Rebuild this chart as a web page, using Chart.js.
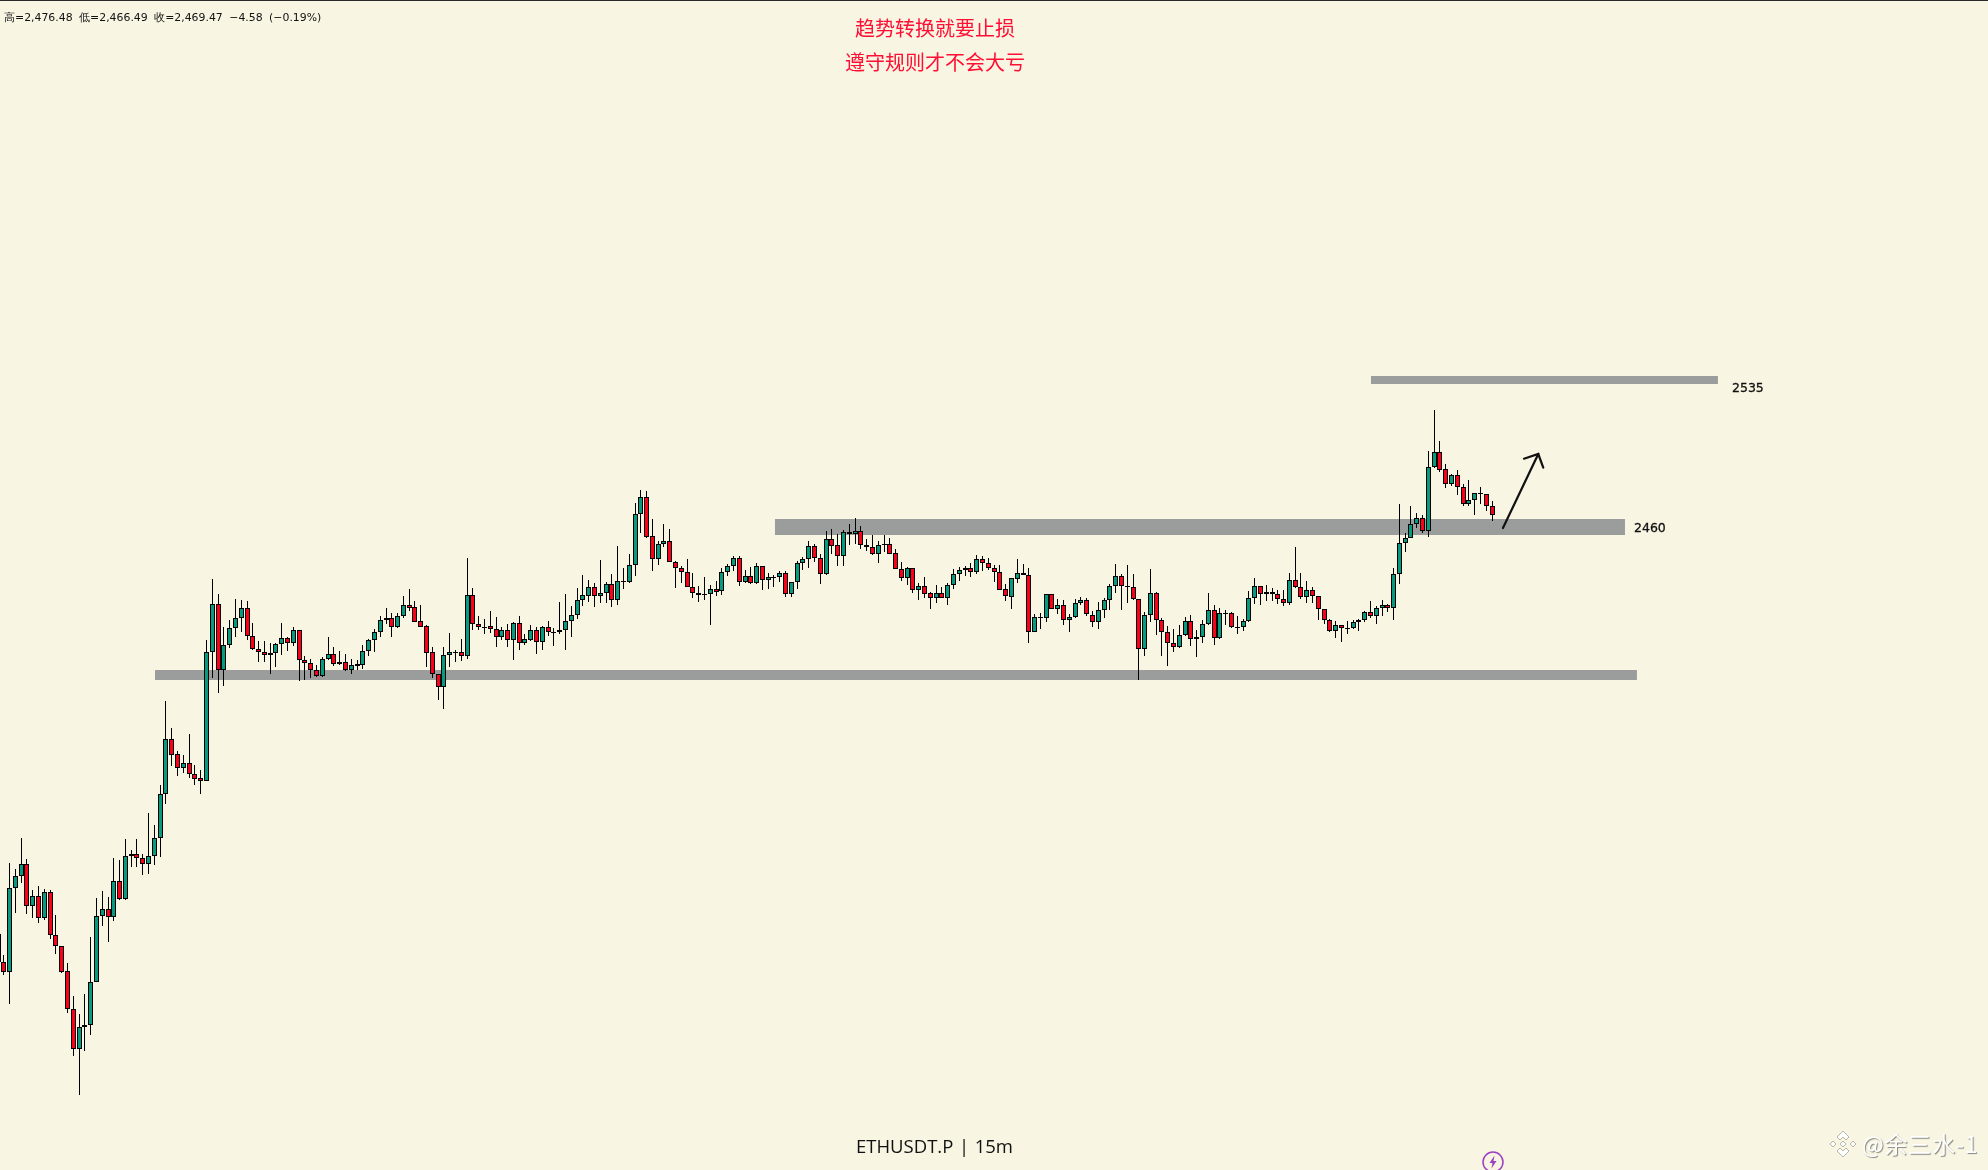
<!DOCTYPE html>
<html lang="zh">
<head>
<meta charset="UTF-8">
<title>ETHUSDT.P 15m</title>
<script src="https://cdn.jsdelivr.net/npm/chart.js"></script>
<style>
html, body { margin: 0; padding: 0; background: #f8f5e3; }
body { width: 1988px; height: 1170px; overflow: hidden; position: relative; }
canvas { position: absolute; left: 0; top: 0; }
.txt { position: absolute; white-space: nowrap; line-height: 1; }
#topline { position: absolute; left: 0; top: 0; width: 1988px; height: 1px; background: #2a2a2a; }
#header { left: 4px; top: 11px; font: 10.9px "DejaVu Sans", sans-serif; color: #111; word-spacing: 3px; }
.note { left: 735px; width: 400px; text-align: center; font: 20px "Noto Sans CJK SC", sans-serif; color: #ff0f33; }
.level { font: 12.5px "DejaVu Sans", sans-serif; color: #111; -webkit-text-stroke: 0.3px #111; }
#symbol { left: 856px; top: 1133px; font: 18.5px "Open Sans", sans-serif; color: #111; word-spacing: 0.8px; }
#mark { left: 1862px; top: 1126px; font: 23px "Noto Sans CJK SC", sans-serif; color: #fff; letter-spacing: 0.8px; text-shadow: 1px 1px 1px #85857b; }
svg { position: absolute; }
</style>
</head>
<body>
<canvas id="candles" width="1988" height="1170"></canvas>
<div id="topline"></div>
<div class="txt" id="header">高=2,476.48 低=2,466.49 收=2,469.47 −4.58 (−0.19%)</div>
<div class="txt note" style="top:13px">趋势转换就要止损</div>
<div class="txt note" style="top:47px">遵守规则才不会大亏</div>
<div class="txt level" style="left:1732px;top:380px">2535</div>
<div class="txt level" style="left:1634px;top:520px">2460</div>
<div class="txt" id="symbol">ETHUSDT.P | 15m</div>
<svg style="left:1481px;top:1150px" width="24" height="24" viewBox="0 0 24 24">
  <circle cx="12" cy="12" r="10" fill="none" stroke="#9c3fc0" stroke-width="1.5"/>
  <path d="M13.5 5.5 L8.5 13 H11.5 L10.5 18.5 L15.5 11 H12.5 Z" fill="#9c3fc0"/>
</svg>
<svg style="left:1829px;top:1130px" width="28" height="28" viewBox="0 0 28 28">
  <g fill="#fff" stroke="#b9b7a8" stroke-width="1">
    <path d="M14 1 L20 7 L17 10 L14 7 L11 10 L8 7 Z"/>
    <path d="M14 27 L20 21 L17 18 L14 21 L11 18 L8 21 Z"/>
    <path d="M4 11 L7 14 L4 17 L1 14 Z"/>
    <path d="M24 11 L27 14 L24 17 L21 14 Z"/>
    <path d="M14 11 L17 14 L14 17 L11 14 Z"/>
  </g>
</svg>
<div class="txt" id="mark">@余三水-1</div>
<script>
// 15m candles, oldest first
var opens = [2260.2,
  2245.9, 2241.2, 2282.9, 2288.9, 2294.8, 2273.8, 2278.8, 2267.9, 2280.8, 2259.3,
  2253.8, 2241.4, 2222.3, 2202.3, 2213.3, 2214.4, 2235.9, 2268.8, 2272.4, 2268.3,
  2286.3, 2277.7, 2298.9, 2299.8, 2297.9, 2294.8, 2298.9, 2307.9, 2330.2, 2357.3,
  2349.9, 2342.8, 2345.7, 2339.9, 2337.8, 2336.3, 2400.9, 2424.8, 2391.9, 2404.3,
  2413.2, 2417.9, 2422.9, 2408.8, 2402.7, 2400.9, 2399.3, 2400.3, 2404.8, 2407.9,
  2405.7, 2411.8, 2396.8, 2395.7, 2392.2, 2388.8, 2397.3, 2399.8, 2395.8, 2395.8,
  2391.8, 2394.2, 2394.7, 2401.3, 2406.8, 2410.8, 2416.8, 2417.8, 2413.7, 2418.8,
  2424.3, 2423.3, 2416.3, 2413.8, 2400.8, 2389.8, 2383.3, 2399.3, 2400.6, 2400.8,
  2399.2, 2429.3, 2414.8, 2413.6, 2413.8, 2412.3, 2408.7, 2411.8, 2407.2, 2415.3,
  2405.3, 2407.2, 2411.8, 2405.8, 2413.3, 2411.2, 2410.8, 2411.8, 2416.3, 2419.3,
  2426.8, 2429.2, 2433.3, 2429.2, 2430.3, 2434.8, 2426.8, 2436.3, 2435.8, 2444.3,
  2469.8, 2478.3, 2458.8, 2447.3, 2454.8, 2456.3, 2445.8, 2442.8, 2440.8, 2433.3,
  2430.3, 2429.3, 2429.8, 2432.3, 2431.3, 2440.8, 2443.8, 2447.8, 2435.8, 2438.8,
  2435.3, 2443.8, 2436.8, 2438.3, 2438.3, 2440.3, 2430.2, 2435.8, 2445.3, 2447.3,
  2453.8, 2447.8, 2440.2, 2457.3, 2454.3, 2448.8, 2460.8, 2459.8, 2461.3, 2454.3,
  2453.3, 2450.2, 2454.3, 2454.9, 2450.3, 2442.7, 2438.2, 2442.8, 2431.8, 2433.8,
  2430.3, 2427.8, 2430.3, 2427.8, 2434.3, 2439.8, 2441.8, 2442.8, 2440.8, 2447.3,
  2445.3, 2442.8, 2440.8, 2432.3, 2428.7, 2437.7, 2440.3, 2439.3, 2410.8, 2417.8,
  2417.8, 2429.8, 2422.3, 2424.3, 2416.8, 2418.3, 2425.3, 2426.8, 2419.7, 2415.8,
  2421.8, 2426.8, 2433.8, 2438.8, 2433.8, 2433.3, 2427.3, 2402.3, 2419.3, 2430.3,
  2416.8, 2410.8, 2405.3, 2403.3, 2409.3, 2416.3, 2407.3, 2408.3, 2414.8, 2421.8,
  2407.8, 2420.3, 2420.3, 2413.3, 2413.3, 2416.3, 2427.8, 2433.8, 2429.8, 2430.8,
  2429.8, 2427.3, 2425.3, 2436.8, 2433.3, 2428.3, 2431.8, 2428.8, 2422.3, 2416.8,
  2411.3, 2414.3, 2412.8, 2412.8, 2415.8, 2416.8, 2420.8, 2418.8, 2422.8, 2424.3,
  2422.8, 2439.8, 2455.3, 2457.8, 2464.8, 2467.8, 2461.7, 2493.3, 2500.8, 2492.3, 2485.2,
  2489.3, 2483.3, 2475.2, 2476.8, 2480.3, 2479.8, 2474.05];
var highs = [2260.2,
  2249.5, 2295.5, 2292.5, 2308, 2297.5, 2282, 2283.9, 2282.5, 2282, 2269.5,
  2253.8, 2245.5, 2229, 2220, 2230, 2258.4, 2278.1, 2281.5, 2278.4, 2298,
  2297, 2307.5, 2302, 2307.5, 2299.9, 2320.4, 2314.6, 2334.6, 2376.6, 2363,
  2351.3, 2349.5, 2360, 2344.5, 2342, 2407, 2437.5, 2430, 2413.4, 2416.9,
  2427.5, 2427, 2426.3, 2415.5, 2406.5, 2406.5, 2405.5, 2405.7, 2415.5, 2408.4,
  2413.4, 2411.8, 2398.8, 2397.3, 2394.5, 2398.5, 2408.5, 2403.5, 2401.5, 2400,
  2397.5, 2396.8, 2404.3, 2407.5, 2412.5, 2419, 2422.8, 2420.5, 2420.5, 2429,
  2432.5, 2426.5, 2424.5, 2414.5, 2403.5, 2389.8, 2403.5, 2410.5, 2401.8, 2407.5,
  2448, 2433, 2419, 2417.5, 2421.5, 2418.5, 2413.3, 2415, 2415.8, 2419,
  2409.8, 2414.5, 2413.3, 2414, 2416.5, 2412.8, 2426, 2430, 2424, 2433,
  2439.5, 2437, 2435.5, 2447, 2435.8, 2440, 2454, 2443, 2450, 2475.5,
  2482, 2481.5, 2467.5, 2456.5, 2465, 2462.5, 2446.5, 2443.8, 2447.5, 2440.5,
  2433.8, 2438.5, 2434.3, 2436.5, 2443, 2445, 2449, 2449, 2442, 2443.5,
  2445.3, 2444, 2440.5, 2439.5, 2441.5, 2441.5, 2436, 2446.5, 2448.5, 2456.5,
  2455, 2450, 2461.5, 2462.5, 2460, 2462, 2465, 2468, 2464, 2457.5,
  2459.5, 2456.5, 2459.5, 2458, 2452.5, 2446, 2443.5, 2442.8, 2435.3, 2438.5,
  2431, 2434.5, 2433.5, 2435.5, 2442.3, 2443.5, 2444, 2445.5, 2449.5, 2449,
  2448, 2444.3, 2444.5, 2435, 2437.8, 2447.5, 2445, 2443, 2420, 2420.5,
  2430, 2429.8, 2427.5, 2427, 2420, 2427.5, 2428.5, 2427.8, 2421.5, 2426,
  2428, 2435, 2445, 2440, 2444.5, 2440, 2427.3, 2421, 2442.5, 2431,
  2418, 2413.8, 2412.5, 2414.5, 2418.5, 2419.5, 2412, 2417, 2430.5, 2424.5,
  2423, 2422, 2421, 2419, 2417.5, 2431.5, 2438, 2434, 2434.5, 2433,
  2432, 2432, 2440.5, 2453.5, 2440.5, 2436.5, 2433.5, 2429, 2422.5, 2417.5,
  2416.5, 2414.5, 2416.5, 2416.8, 2417.3, 2421.5, 2426.5, 2424, 2427, 2424.8,
  2443, 2475, 2460.5, 2474, 2470.3, 2469.3, 2501.5, 2522, 2506.5, 2495,
  2489.8, 2492, 2485, 2487, 2480.3, 2483.5, 2480, 2476.48];
var lows = [2245.5,
  2239.7, 2225.2, 2270.7, 2285.6, 2270.2, 2267.9, 2265.7, 2267, 2257.6, 2250.2,
  2240.4, 2220.7, 2199, 2179.7, 2201.6, 2209.7, 2235.9, 2264.1, 2256.2, 2266.7,
  2277.2, 2277.2, 2293.6, 2293.6, 2289.4, 2290, 2294.6, 2298.6, 2325.1, 2344,
  2339, 2340.6, 2338.2, 2334.6, 2330.1, 2336.3, 2387.9, 2380.5, 2384, 2402.9,
  2408.3, 2411.2, 2407.2, 2402.2, 2396, 2396, 2390, 2393.4, 2399.5, 2401.5,
  2404, 2386.7, 2387, 2388, 2388.3, 2388.5, 2397, 2394, 2394.7, 2391.7,
  2390, 2392, 2392.5, 2399, 2401.2, 2408.5, 2415.2, 2408.5, 2413.2, 2418.2,
  2421.5, 2416.2, 2413.5, 2393.5, 2388, 2377, 2372.5, 2393.5, 2396, 2396.5,
  2397.5, 2412.2, 2412.2, 2410.2, 2410.7, 2403.5, 2407.2, 2403.5, 2397, 2402,
  2404.7, 2406.3, 2400, 2402, 2409, 2404, 2410.2, 2402, 2408.5, 2417.5,
  2424, 2426, 2423.5, 2425.7, 2425.5, 2423.5, 2424.5, 2432.5, 2435.7, 2439,
  2460.5, 2458, 2441.5, 2444.5, 2453.7, 2445.8, 2433, 2435.5, 2433.3, 2428,
  2426, 2427, 2414.5, 2429, 2429.5, 2439, 2441.5, 2434, 2435.7, 2435.2,
  2435.2, 2432, 2432.7, 2433.5, 2436, 2428.5, 2428.5, 2432.5, 2442, 2443,
  2446.2, 2435, 2439.5, 2450, 2444, 2444, 2454.5, 2455, 2452.3, 2451.7,
  2449.5, 2445.5, 2451, 2450, 2442.5, 2436.5, 2434.5, 2430.7, 2427, 2428,
  2422.5, 2425.5, 2427.8, 2424.5, 2432.5, 2436.5, 2439, 2438.5, 2440, 2441.5,
  2442, 2436, 2432, 2426.5, 2422.5, 2435.5, 2439.3, 2405.5, 2410.8, 2412.5,
  2416, 2422.3, 2420, 2414.5, 2411, 2417.8, 2424.5, 2419, 2413.5, 2412.5,
  2418, 2422, 2430.5, 2422, 2425.5, 2427, 2387, 2399, 2416, 2409.5,
  2399, 2394, 2401, 2403.2, 2409, 2404, 2398.5, 2405.5, 2414.5, 2404.5,
  2407.5, 2414.5, 2413, 2410, 2411.5, 2416.2, 2425, 2424.5, 2426.5, 2426.5,
  2425, 2424, 2424.5, 2432.8, 2427.5, 2425.5, 2425.5, 2417, 2415, 2411,
  2408, 2406, 2410, 2412.3, 2411.5, 2416.2, 2418, 2415, 2419, 2421,
  2417, 2434.8, 2451, 2457.8, 2462.8, 2460.5, 2458.5, 2493.2, 2491.2, 2483,
  2484, 2479.5, 2474, 2474, 2469.5, 2475, 2471.5, 2466.49];
var closes = [2245.9,
  2241.2, 2282.9, 2288.9, 2294.8, 2273.8, 2278.8, 2267.9, 2280.8, 2259.3, 2253.8,
  2241.2, 2222.3, 2202.3, 2213.3, 2214.4, 2235.9, 2268.8, 2272.4, 2268.3, 2286.3,
  2277.7, 2298.9, 2299.8, 2297.9, 2294.8, 2298.9, 2307.9, 2330.2, 2357.3, 2349.7,
  2342.8, 2345.7, 2339.9, 2337.7, 2336.3, 2400.9, 2424.8, 2391.9, 2404.3, 2413.2,
  2417.9, 2422.9, 2408.8, 2402.7, 2400.9, 2399.3, 2400.3, 2404.8, 2407.9, 2405.7,
  2411.9, 2396.8, 2395.7, 2392.2, 2388.8, 2397.3, 2399.8, 2395.2, 2395.2, 2391.8,
  2394.3, 2394.8, 2401.3, 2406.8, 2410.8, 2416.8, 2417.8, 2413.7, 2418.8, 2424.3,
  2423.2, 2416.2, 2413.7, 2400.7, 2389.8, 2383.3, 2399.3, 2400.8, 2401, 2399.2,
  2429.3, 2414.8, 2413.7, 2413.3, 2412.3, 2408.7, 2411.8, 2407.2, 2415.3, 2405.3,
  2407.3, 2411.8, 2405.8, 2413.3, 2411.2, 2411, 2411.8, 2416.3, 2419.3, 2426.8,
  2429.3, 2433.3, 2429.2, 2430.3, 2434.8, 2426.8, 2436.3, 2436.5, 2444.3, 2469.8,
  2478.3, 2458.7, 2447.3, 2454.8, 2456.3, 2445.8, 2442.8, 2440.8, 2433.3, 2430.3,
  2429.3, 2429.8, 2432.3, 2431.2, 2440.8, 2443.8, 2447.8, 2435.8, 2438.8, 2435.3,
  2443.8, 2436.8, 2438.3, 2438, 2440.3, 2430.2, 2435.8, 2445.3, 2447.3, 2453.8,
  2447.8, 2440.2, 2457.3, 2454.2, 2448.8, 2460.8, 2459.8, 2461.3, 2454.3, 2453.3,
  2450.2, 2454.3, 2455, 2450.2, 2442.7, 2438.2, 2442.8, 2431.8, 2433.8, 2430.2,
  2427.8, 2430.3, 2427.8, 2434.3, 2439.8, 2441.8, 2442.8, 2440.8, 2447.3, 2445.3,
  2442.8, 2440.8, 2432.2, 2428.8, 2437.8, 2440.3, 2439.3, 2410.8, 2418.3, 2418.3,
  2429.8, 2422.3, 2424.3, 2416.8, 2418.3, 2425.3, 2426.8, 2419.8, 2415.8, 2421.8,
  2426.8, 2433.8, 2438.8, 2433.8, 2433.6, 2427.3, 2402.3, 2419.3, 2430.3, 2416.8,
  2410.8, 2405.3, 2403.3, 2409.3, 2416.3, 2407.3, 2408.3, 2414.8, 2421.8, 2407.8,
  2420.3, 2420, 2413.3, 2413, 2416.3, 2427.8, 2433.8, 2429.8, 2430.8, 2429.8,
  2427.3, 2425.3, 2436.8, 2433.3, 2428.3, 2431.8, 2428.8, 2422.3, 2416.8, 2411.3,
  2414.3, 2412.8, 2412.9, 2415.8, 2416.8, 2420.8, 2418.8, 2422.8, 2424.3, 2422.8,
  2439.8, 2455.3, 2457.8, 2464.8, 2467.8, 2461.7, 2493.3, 2500.8, 2492.2, 2485.2, 2489.3,
  2483.3, 2475.2, 2476.8, 2480.3, 2480, 2474.2, 2469.47];

// grey zones drawn on the chart: [first bar, last bar], price, band width
var zoneBars = [[237.09, 297], [134.17, 280.95], [27.11, 283.02]];
var zonePrices = [2537, 2463.5, 2389.5];
var zoneWidths = [8, 16, 10];

var arrowShaft = [{x: 259.88, y: 2463}, {x: 265.98, y: 2500}];
var arrowHead = [{x: 263.51, y: 2497.65}, {x: 265.98, y: 2500}, {x: 266.84, y: 2493.15}];

var upColor = '#089981';
var downColor = '#fb0019';

function isUp(i) {
    return closes[i] >= opens[i];
}

var wickData = highs.map(function (h, i) { return {x: i, y: [lows[i], h]}; });
var bodyData = opens.map(function (o, i) { return {x: i, y: [o, closes[i]]}; });

var datasets = [{
    type: 'bar', data: bodyData, order: 2, grouped: false, barThickness: 5,
    borderWidth: 1, borderColor: '#000', borderSkipped: false, inflateAmount: 0,
    backgroundColor: function (c) { return isUp(c.dataIndex) ? upColor : downColor; }
}, {
    type: 'bar', data: wickData, order: 3, grouped: false, barThickness: 1,
    borderWidth: 0, backgroundColor: '#000', inflateAmount: 0
}];

zonePrices.forEach(function (price, n) {
    datasets.push({
        type: 'line', order: 4, pointRadius: 0, borderColor: '#9b9c9c',
        borderWidth: zoneWidths[n], borderCapStyle: 'butt',
        data: [{x: zoneBars[n][0], y: price}, {x: zoneBars[n][1], y: price}]
    });
});
[arrowShaft, arrowHead].forEach(function (pts) {
    datasets.push({
        type: 'line', order: 1, pointRadius: 0, borderColor: '#111',
        borderWidth: 2.2, borderCapStyle: 'round', borderJoinStyle: 'miter', data: pts
    });
});

// snap the candles to whole pixels so the outlines stay sharp
var snapBars = {
    id: 'snapBars',
    afterDatasetsUpdate: function (chart) {
        chart.getSortedVisibleDatasetMetas().forEach(function (meta) {
            if (meta.type !== 'bar') return;
            meta.data.forEach(function (el) {
                el.x = Math.floor(el.x) + 0.5;
                el.y = Math.round(el.y);
                el.base = Math.round(el.base);
                if (el.y === el.base) el.base = el.y + 1;
            });
        });
    }
};

var ctx = document.getElementById('candles').getContext('2d');
var chart = new Chart(ctx, {
    type: 'bar',
    data: {datasets: datasets},
    plugins: [snapBars],
    options: {
        responsive: false,
        devicePixelRatio: 1,
        animation: false,
        events: [],
        layout: {padding: 0},
        plugins: {legend: {display: false}, tooltip: {enabled: false}},
        scales: {
            x: {type: 'linear', display: false, offset: false, min: 0.3438, max: 343.64},
            y: {type: 'linear', display: false, min: 2142, max: 2727}
        }
    }
});
</script>
</body>
</html>
